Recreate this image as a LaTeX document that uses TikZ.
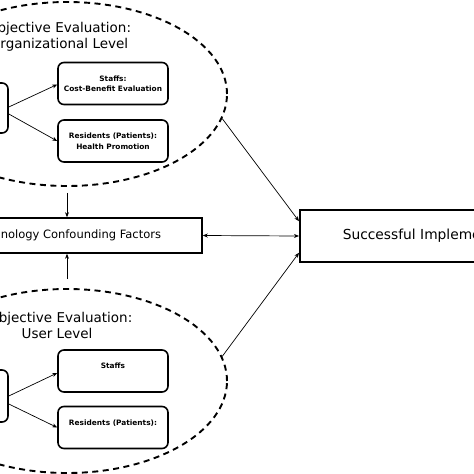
\documentclass[tikz,border=0pt]{standalone}
\usepackage{fontspec}
\setmainfont{DejaVu Sans}
\usetikzlibrary{shapes.geometric,arrows.meta}
\begin{document}
\begin{tikzpicture}[x=1pt,y=-1pt,
  dashell/.style={ellipse,draw,line width=1.9pt,dash pattern=on 6pt off 4.5pt,minimum width=320pt,minimum height=184pt,inner sep=0pt},
  smallbox/.style={draw,rounded corners=6pt,line width=1.6pt,minimum width=110pt,minimum height=42pt,align=center,font=\fontsize{7.4}{10.5}\selectfont\bfseries,inner sep=0pt},
  sidebox/.style={draw,rounded corners=6pt,line width=1.6pt,minimum width=48pt,inner sep=0pt},
  titletext/.style={align=center,font=\fontsize{13.5}{16}\selectfont,inner sep=0pt},
  bigbox/.style={draw,line width=1.6pt,inner sep=0pt},
  arr/.style={-{Stealth[length=5pt,width=4pt]},line width=0.7pt},
  darr/.style={{Stealth[length=5pt,width=4pt]}-{Stealth[length=5pt,width=4pt]},line width=0.7pt}]
\useasboundingbox (0,0) rectangle (474,474);
\fill[white] (0,0) rectangle (474,474);
\clip (0,0) rectangle (474,474);
% top group
\node[dashell] (topell) at (67,94) {};
\node[titletext] (toptitle) at (59,37) {Objective Evaluation:\\Organizational Level};
\node[sidebox,minimum height=50pt] (lt) at (-16,108) {};
\node[smallbox] (s1) at (113,83.5) {Staffs:\\Cost-Benefit Evaluation};
\node[smallbox] (s2) at (113,141) {Residents (Patients):\\Health Promotion};
% bottom group
\node[dashell] (botell) at (67,381) {};
\node[titletext] (bottitle) at (57,325) {Subjective Evaluation:\\User Level};
\node[sidebox,minimum height=52pt] (lb) at (-16,396) {};
\node[smallbox] (s3) at (113,371) {Staffs\\~};
\node[smallbox] (s4) at (113,427.5) {Residents (Patients):\\~};
% middle
\node[bigbox,minimum width=268pt,minimum height=35pt,font=\fontsize{11.5}{13}\selectfont] (mid) at (68,235.5) {Technology Confounding Factors};
\node[bigbox,anchor=west,minimum height=52pt,font=\fontsize{13.8}{16}\selectfont] (succ) at (299,236) {\hspace{43pt}Successful Implementation\hspace{60pt}};
% connectors
\draw[arr] ([yshift=1pt]lt.east) -- ([yshift=-1pt]s1.west);
\draw[arr] ([yshift=-6pt]lt.east) -- (s2.west);
\draw[arr] (lb.east) -- ([yshift=-2pt]s3.west);
\draw[arr] ([yshift=-8pt]lb.east) -- (s4.west);
\draw[arr] ([yshift=-6pt]topell.south) -- (topell.south |- mid.north);
\draw[arr] ([yshift=9pt]botell.north) -- (botell.north |- mid.south);
\draw[darr] (mid.east) -- (succ.west);
\draw[arr] (topell.-9) -- ([yshift=-12pt]succ.north west);
\draw[arr] (botell.9.5) -- ([yshift=10pt]succ.south west);
\end{tikzpicture}
\end{document}
